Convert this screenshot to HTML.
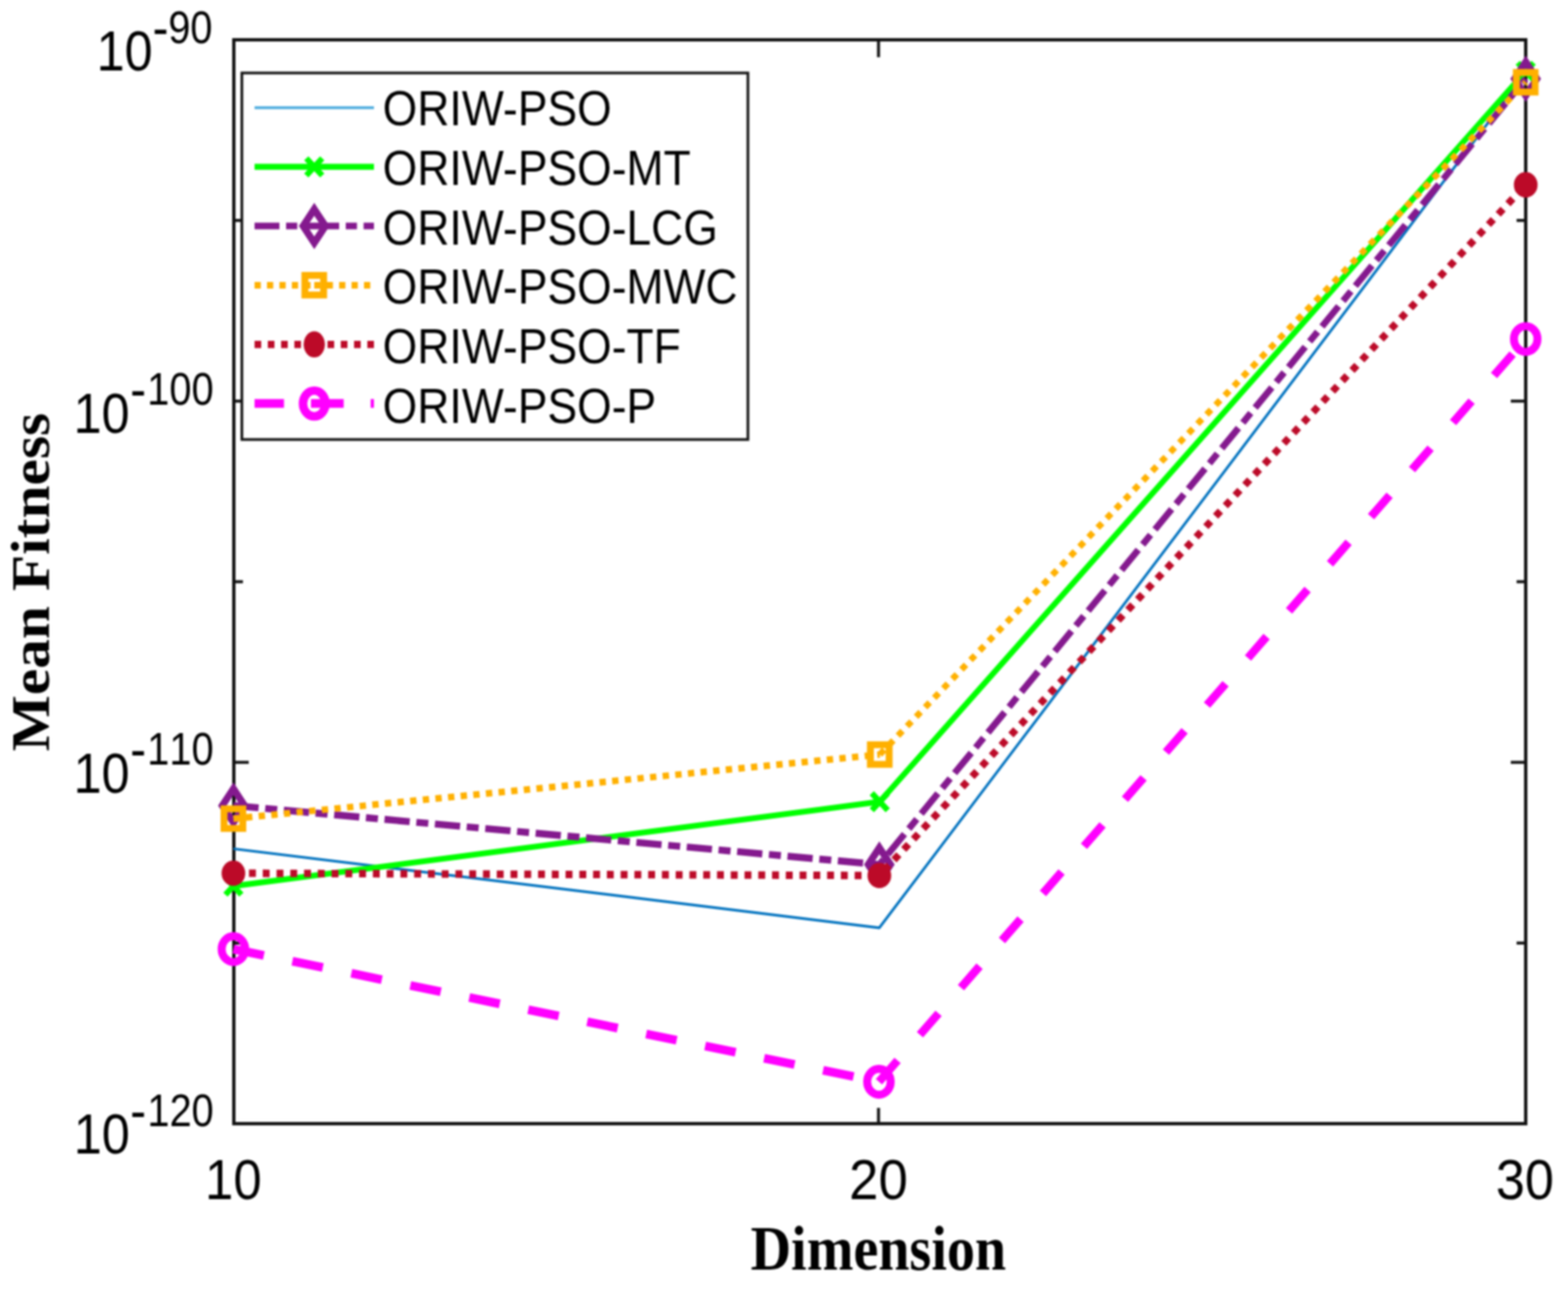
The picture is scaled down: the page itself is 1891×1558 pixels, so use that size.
<!DOCTYPE html><html><head><meta charset="utf-8"><title>Mean Fitness vs Dimension</title><style>html,body{margin:0;padding:0;background:#fff;}svg{display:block}text{white-space:pre}</style></head><body>
<svg width="1891" height="1558" viewBox="0 0 1891 1558">
<rect x="0" y="0" width="1891" height="1558" fill="#fff"/>
<defs><filter id="soft" x="-1%" y="-1%" width="102%" height="102%" color-interpolation-filters="sRGB"><feGaussianBlur stdDeviation="0.8"/></filter></defs>
<g filter="url(#soft)">
<rect x="282.0" y="48.0" width="1558.0" height="1307.0" fill="none" stroke="#111" stroke-width="4.0"/>
<line x1="282.0" y1="483.7" x2="300.0" y2="483.7" stroke="#111" stroke-width="3.6"/>
<line x1="1840.0" y1="483.7" x2="1822.0" y2="483.7" stroke="#111" stroke-width="3.6"/>
<line x1="282.0" y1="919.3" x2="300.0" y2="919.3" stroke="#111" stroke-width="3.6"/>
<line x1="1840.0" y1="919.3" x2="1822.0" y2="919.3" stroke="#111" stroke-width="3.6"/>
<line x1="282.0" y1="265.8" x2="293.0" y2="265.8" stroke="#111" stroke-width="3.6"/>
<line x1="1840.0" y1="265.8" x2="1829.0" y2="265.8" stroke="#111" stroke-width="3.6"/>
<line x1="282.0" y1="701.5" x2="293.0" y2="701.5" stroke="#111" stroke-width="3.6"/>
<line x1="1840.0" y1="701.5" x2="1829.0" y2="701.5" stroke="#111" stroke-width="3.6"/>
<line x1="282.0" y1="1137.2" x2="293.0" y2="1137.2" stroke="#111" stroke-width="3.6"/>
<line x1="1840.0" y1="1137.2" x2="1829.0" y2="1137.2" stroke="#111" stroke-width="3.6"/>
<line x1="1059.5" y1="1355.0" x2="1059.5" y2="1336.0" stroke="#111" stroke-width="3.6"/>
<line x1="1059.5" y1="48.0" x2="1059.5" y2="69.0" stroke="#111" stroke-width="3.6"/>
<path d="M281.5,1023.5 L1060.5,1118.8 L1840.0,88.0" fill="none" stroke="#0072bf" stroke-width="3.2" stroke-linejoin="round" stroke-linecap="butt"/>
<path d="M281.5,1068.5 L1061.0,966.8 L1840.0,86.0" fill="none" stroke="#00ff00" stroke-width="7.0" stroke-linejoin="round" stroke-linecap="butt"/>
<path d="M271.9,1058.2 L291.1,1078.8 M271.9,1078.8 L291.1,1058.2" stroke="#00ff00" stroke-width="7.0" fill="none" stroke-linecap="butt"/>
<path d="M1051.4,956.5 L1070.6,977.1 M1051.4,977.1 L1070.6,956.5" stroke="#00ff00" stroke-width="7.0" fill="none" stroke-linecap="butt"/>
<path d="M1830.4,75.7 L1849.6,96.3 M1830.4,96.3 L1849.6,75.7" stroke="#00ff00" stroke-width="7.0" fill="none" stroke-linecap="butt"/>
<line x1="281.5" y1="971.4" x2="1060.5" y2="1042.6" stroke="#84198e" stroke-width="8.40" stroke-dasharray="30.5 8 14.5 8" stroke-dashoffset="0" stroke-linecap="butt"/><line x1="1060.5" y1="1042.6" x2="1840.0" y2="95.0" stroke="#84198e" stroke-width="8.00" stroke-dasharray="31.7 8.3 15.1 8.3" stroke-dashoffset="-16" stroke-linecap="butt"/>
<path d="M281.5,951.1 L294.9,971.4 L281.5,991.7 L268.1,971.4 Z" stroke="#84198e" stroke-width="8.5" fill="none" stroke-linejoin="miter" stroke-miterlimit="10"/>
<path d="M1060.5,1022.3 L1073.9,1042.6 L1060.5,1062.9 L1047.1,1042.6 Z" stroke="#84198e" stroke-width="8.5" fill="none" stroke-linejoin="miter" stroke-miterlimit="10"/>
<path d="M1840.0,74.7 L1853.4,95.0 L1840.0,115.3 L1826.6,95.0 Z" stroke="#84198e" stroke-width="8.5" fill="none" stroke-linejoin="miter" stroke-miterlimit="10"/>
<line x1="281.5" y1="987.2" x2="1061.0" y2="909.9" stroke="#ffb000" stroke-width="7.98" stroke-dasharray="7.65 7.65" stroke-dashoffset="0" stroke-linecap="butt"/><line x1="1061.0" y1="909.9" x2="1840.0" y2="99.2" stroke="#ffb000" stroke-width="7.60" stroke-dasharray="7.9 7.9" stroke-dashoffset="0" stroke-linecap="butt"/>
<rect x="270.2" y="975.4" width="22.6" height="23.6" stroke="#ffb000" stroke-width="8.3" fill="none"/>
<rect x="1049.7" y="898.1" width="22.6" height="23.6" stroke="#ffb000" stroke-width="8.3" fill="none"/>
<rect x="1828.7" y="87.4" width="22.6" height="23.6" stroke="#ffb000" stroke-width="8.3" fill="none"/>
<line x1="281.5" y1="1053.0" x2="1060.5" y2="1055.8" stroke="#bc0a28" stroke-width="9.03" stroke-dasharray="8.3 8.3" stroke-dashoffset="-2.2" stroke-linecap="butt"/><line x1="1060.5" y1="1055.8" x2="1840.0" y2="222.9" stroke="#bc0a28" stroke-width="8.60" stroke-dasharray="8.6 8.6" stroke-dashoffset="-8.6" stroke-linecap="butt"/>
<ellipse cx="281.5" cy="1053.0" rx="14.3" ry="15.3" fill="#bc0a28"/>
<ellipse cx="1060.5" cy="1055.8" rx="14.3" ry="15.3" fill="#bc0a28"/>
<ellipse cx="1840.0" cy="222.9" rx="14.3" ry="15.3" fill="#bc0a28"/>
<line x1="281.5" y1="1144.5" x2="1060.0" y2="1304.5" stroke="#ff00ff" stroke-width="10.50" stroke-dasharray="37.5 35.1" stroke-dashoffset="0" stroke-linecap="butt"/><line x1="1060.0" y1="1304.5" x2="1840.0" y2="408.8" stroke="#ff00ff" stroke-width="10.00" stroke-dasharray="34.2 41.1" stroke-dashoffset="0" stroke-linecap="butt"/>
<ellipse cx="281.5" cy="1144.5" rx="14.2" ry="15.6" stroke="#ff00ff" stroke-width="9.6" fill="none"/>
<ellipse cx="1060.0" cy="1304.5" rx="14.2" ry="15.6" stroke="#ff00ff" stroke-width="9.6" fill="none"/>
<ellipse cx="1840.0" cy="408.8" rx="14.2" ry="15.6" stroke="#ff00ff" stroke-width="9.6" fill="none"/>
<rect x="291.7" y="88.0" width="610.3" height="442.0" fill="#fff" stroke="#111" stroke-width="3.2"/>
<line x1="307.0" y1="129.9" x2="451.0" y2="129.9" stroke="#45a8dc" stroke-width="3.4"/>
<text transform="translate(461.6,151.2) scale(0.894,1)" font-family="Liberation Sans, Arial, sans-serif" font-size="60" fill="#000">ORIW-PSO</text>
<line x1="307.0" y1="201.2" x2="451.0" y2="201.2" stroke="#00ff00" stroke-width="7.2"/>
<path d="M369.4,190.9 L388.6,211.6 M369.4,211.6 L388.6,190.9" stroke="#00ff00" stroke-width="7.0" fill="none" stroke-linecap="butt"/>
<text transform="translate(461.6,222.9) scale(0.894,1)" font-family="Liberation Sans, Arial, sans-serif" font-size="60" fill="#000">ORIW-PSO-MT</text>
<line x1="307.0" y1="272.6" x2="379.0" y2="272.6" stroke="#84198e" stroke-width="8.0" stroke-dasharray="30 8 13.5 8" stroke-dashoffset="0"/>
<line x1="379.0" y1="272.6" x2="451.0" y2="272.6" stroke="#84198e" stroke-width="8.0" stroke-dasharray="30 8 13.5 8" stroke-dashoffset="0"/>
<path d="M379.0,252.3 L392.4,272.6 L379.0,292.9 L365.6,272.6 Z" stroke="#84198e" stroke-width="8.5" fill="none" stroke-linejoin="miter" stroke-miterlimit="10"/>
<text transform="translate(461.6,294.5) scale(0.894,1)" font-family="Liberation Sans, Arial, sans-serif" font-size="60" fill="#000">ORIW-PSO-LCG</text>
<line x1="307.0" y1="343.9" x2="379.0" y2="343.9" stroke="#ffb000" stroke-width="8.0" stroke-dasharray="7.5 7.5" stroke-dashoffset="0"/>
<line x1="379.0" y1="343.9" x2="451.0" y2="343.9" stroke="#ffb000" stroke-width="8.0" stroke-dasharray="7.5 7.5" stroke-dashoffset="0"/>
<rect x="367.7" y="332.1" width="22.6" height="23.6" stroke="#ffb000" stroke-width="8.3" fill="none"/>
<text transform="translate(461.6,366.2) scale(0.894,1)" font-family="Liberation Sans, Arial, sans-serif" font-size="60" fill="#000">ORIW-PSO-MWC</text>
<line x1="307.0" y1="415.3" x2="379.0" y2="415.3" stroke="#bc0a28" stroke-width="8.8" stroke-dasharray="8 8" stroke-dashoffset="0"/>
<line x1="379.0" y1="415.3" x2="451.0" y2="415.3" stroke="#bc0a28" stroke-width="8.8" stroke-dasharray="8 8" stroke-dashoffset="0"/>
<ellipse cx="379.0" cy="415.3" rx="12.8" ry="15.8" fill="#bc0a28"/>
<text transform="translate(461.6,437.8) scale(0.894,1)" font-family="Liberation Sans, Arial, sans-serif" font-size="60" fill="#000">ORIW-PSO-TF</text>
<line x1="307.0" y1="486.6" x2="379.0" y2="486.6" stroke="#ff00ff" stroke-width="10.5" stroke-dasharray="35.5 32.5" stroke-dashoffset="0"/>
<line x1="379.0" y1="486.6" x2="451.0" y2="486.6" stroke="#ff00ff" stroke-width="10.5" stroke-dasharray="35.5 32.5" stroke-dashoffset="0"/>
<ellipse cx="379.0" cy="486.6" rx="13.6" ry="15.6" stroke="#ff00ff" stroke-width="10.2" fill="none"/>
<text transform="translate(461.6,509.5) scale(0.894,1)" font-family="Liberation Sans, Arial, sans-serif" font-size="60" fill="#000">ORIW-PSO-P</text>
<text transform="translate(116.44,84.8) scale(0.881,1)" font-family="Liberation Sans, Arial, sans-serif" style="font-kerning:none" font-size="69" fill="#000">10</text>
<text transform="translate(0,52.1) scale(0.865,1)" font-family="Liberation Sans, Arial, sans-serif" style="font-kerning:none" font-size="55.5" fill="#000"><tspan x="212.72" dy="4.16" font-size="66.7">-</tspan><tspan x="234.59" dy="-4.16">90</tspan></text>
<text transform="translate(88.74,522.0) scale(0.881,1)" font-family="Liberation Sans, Arial, sans-serif" style="font-kerning:none" font-size="69" fill="#000">10</text>
<text transform="translate(0,488.3) scale(0.865,1)" font-family="Liberation Sans, Arial, sans-serif" style="font-kerning:none" font-size="55.5" fill="#000"><tspan x="181.39" dy="4.16" font-size="66.7">-</tspan><tspan x="205.20" dy="-4.16">100</tspan></text>
<text transform="translate(88.74,955.5) scale(0.881,1)" font-family="Liberation Sans, Arial, sans-serif" style="font-kerning:none" font-size="69" fill="#000">10</text>
<text transform="translate(0,921.7) scale(0.865,1)" font-family="Liberation Sans, Arial, sans-serif" style="font-kerning:none" font-size="55.5" fill="#000"><tspan x="181.39" dy="4.16" font-size="66.7">-</tspan><tspan x="205.20" dy="-4.16">110</tspan></text>
<text transform="translate(88.94,1390.6) scale(0.881,1)" font-family="Liberation Sans, Arial, sans-serif" style="font-kerning:none" font-size="69" fill="#000">10</text>
<text transform="translate(0,1357.7) scale(0.865,1)" font-family="Liberation Sans, Arial, sans-serif" style="font-kerning:none" font-size="55.5" fill="#000"><tspan x="181.39" dy="4.16" font-size="66.7">-</tspan><tspan x="205.43" dy="-4.16">120</tspan></text>
<text transform="translate(247.30,1445.7) scale(0.888,1)" font-family="Liberation Sans, Arial, sans-serif" style="font-kerning:none" font-size="69" fill="#000">10</text>
<text transform="translate(1024.12,1445.7) scale(0.921,1)" font-family="Liberation Sans, Arial, sans-serif" style="font-kerning:none" font-size="69" fill="#000">20</text>
<text transform="translate(1804.04,1445.7) scale(0.913,1)" font-family="Liberation Sans, Arial, sans-serif" style="font-kerning:none" font-size="69" fill="#000">30</text>
<text transform="translate(905.3,1531.0) scale(0.898,1)" font-family="Liberation Serif, Times New Roman, serif" font-weight="bold" font-size="75.3" fill="#000">Dimension</text>
<text transform="translate(59.0,906.0) rotate(-90) scale(1.08,1)" font-family="Liberation Serif, Times New Roman, serif" font-weight="bold" font-size="66.4" fill="#000">Mean Fitness</text>
</g>
</svg></body></html>
